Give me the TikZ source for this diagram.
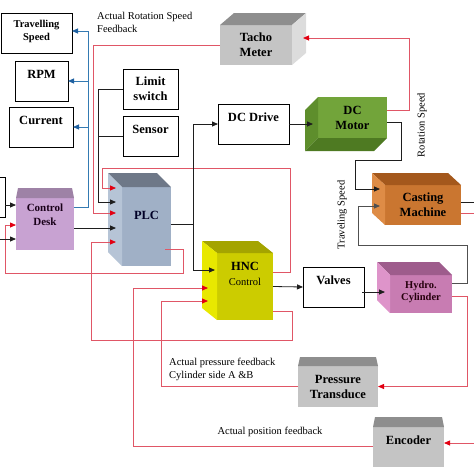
\documentclass[tikz,border=0pt]{standalone}
\usepackage{fontspec}
\setmainfont{Liberation Serif}
\usepackage{xcolor}
\usetikzlibrary{arrows.meta}

\definecolor{fbred}{RGB}{224,86,102}
\definecolor{tipred}{RGB}{226,0,18}
\definecolor{lnblue}{RGB}{52,122,178}
\definecolor{tipblue}{RGB}{30,96,160}
\definecolor{lnblack}{RGB}{30,30,30}
\definecolor{lngray}{RGB}{80,80,80}
% 立方体各面颜色
\definecolor{grayF}{RGB}{196,196,196}
\definecolor{grayT}{RGB}{142,142,142}
\definecolor{grayS}{RGB}{220,220,220}
\definecolor{greenF}{RGB}{114,164,58}
\definecolor{greenL}{RGB}{94,142,44}
\definecolor{greenB}{RGB}{78,122,34}
\definecolor{orgF}{RGB}{202,118,48}
\definecolor{orgT}{RGB}{164,88,28}
\definecolor{orgL}{RGB}{222,140,70}
\definecolor{pinkF}{RGB}{200,124,178}
\definecolor{pinkT}{RGB}{158,92,140}
\definecolor{pinkL}{RGB}{222,148,202}
\definecolor{lilacF}{RGB}{200,162,210}
\definecolor{lilacT}{RGB}{158,130,166}
\definecolor{plcF}{RGB}{160,176,198}
\definecolor{plcL}{RGB}{182,196,214}
\definecolor{plcT}{RGB}{110,120,136}
\definecolor{ylwF}{RGB}{204,204,0}
\definecolor{ylwL}{RGB}{232,232,0}
\definecolor{ylwT}{RGB}{164,164,0}

\begin{document}
\begin{tikzpicture}[
    x=1pt, y=-1pt,
    >={Triangle[length=6pt,width=5pt]},
    box/.style={draw=black, line width=0.8pt, fill=white, inner sep=0pt, outer sep=0pt,
        align=center, font=\fontsize{12.5}{15}\selectfont\bfseries},
    face/.style={inner sep=0pt, outer sep=0pt, align=center,
        font=\fontsize{12.5}{15}\selectfont\bfseries},
    raised/.style={text depth=14pt},  % 单行文字偏上
    sig/.style={draw=lnblack, line width=0.8pt},
    fb/.style={draw=fbred, line width=0.8pt},
    blu/.style={draw=lnblue, line width=0.8pt},
    sigarrow/.style={sig, ->},
    fbarrow/.style={fb, -{Triangle[length=6pt,width=5pt,color=tipred]}},
    bluarrow/.style={blu, -{Triangle[length=6pt,width=5pt,color=tipblue]}},
    note/.style={font=\fontsize{10.5}{13}\selectfont, inner sep=0pt, align=left}
]
    \useasboundingbox (0,0) rectangle (474,474);

    % 普通方框
    \node[box, font=\fontsize{10.5}{13}\selectfont\bfseries, text depth=5pt,
        minimum width=71pt, minimum height=40pt] (spd) at (36.5,33) {Travelling\\Speed};
    \node[box, raised, minimum width=53pt, minimum height=40pt] (rpm) at (41.5,81) {RPM};
    \node[box, raised, minimum width=64pt, minimum height=40pt] (cur) at (41,127) {Current};
    \node[box, minimum width=55pt, minimum height=40pt] (lim) at (150.5,89) {Limit\\switch};
    \node[box, raised, minimum width=55pt, minimum height=40pt] (sen) at (150.5,136) {Sensor};
    \node[box, raised, minimum width=71pt, minimum height=40pt] (drv) at (253.5,124) {DC Drive};
    \node[box, raised, minimum width=61pt, minimum height=40pt] (vlv) at (333.5,287) {Valves};
    \node[box, minimum width=45pt, minimum height=40pt] (inp) at (-17.5,197) {};

    % 立方体：先画正面，再补侧面
    \node[face, fill=grayF, minimum width=72pt, minimum height=40pt] (tacho) at (256,45) {Tacho\\Meter};
    \fill[grayT] (tacho.north west) -- ++(14,-12) -- ++(72,0) -- (tacho.north east) -- cycle;
    \fill[grayS] (tacho.north east) -- ++(14,-12) -- ++(0,40) -- (tacho.south east) -- cycle;

    \node[face, fill=greenF, minimum width=69pt, minimum height=41pt] (motor) at (352.5,117.5) {DC\\Motor};
    \fill[greenL] (motor.north west) -- ++(-13,13) -- ++(0,41) -- (motor.south west) -- cycle;
    \fill[greenB] (motor.south west) -- ++(-13,13) -- ++(69,0) -- (motor.south east) -- cycle;

    \node[face, fill=orgF, minimum width=76pt, minimum height=40pt] (cast) at (423,205) {Casting\\Machine};
    \fill[orgT] (cast.north west) -- ++(-13,-12) -- ++(76,0) -- (cast.north east) -- cycle;
    \fill[orgL] (cast.north west) -- ++(-13,-12) -- ++(0,40) -- (cast.south west) -- cycle;

    \node[face, fill=pinkF, text=black!80!purple, font=\fontsize{10.5}{12}\selectfont\bfseries,
        text depth=6pt, minimum width=62pt, minimum height=38pt] (hyd) at (421,294) {Hydro.\\Cylinder};
    \fill[pinkT] (hyd.north west) -- ++(-13,-13) -- ++(62,0) -- (hyd.north east) -- cycle;
    \fill[pinkL] (hyd.north west) -- ++(-13,-13) -- ++(0,38) -- (hyd.south west) -- cycle;

    \node[face, fill=lilacF, text=black!80!violet, font=\fontsize{11}{14}\selectfont\bfseries,
        text depth=18pt, minimum width=58pt, minimum height=52pt] (desk) at (45,224) {Control\\Desk};
    \fill[lilacT] (desk.north west) -- ++(2,-10) -- ++(54,0) -- (desk.north east) -- cycle;

    \node[face, fill=plcF, text=black!85!blue, text depth=23pt,
        minimum width=49pt, minimum height=79pt] (plc) at (146.5,226.5) {PLC};
    \fill[plcT] (plc.north west) -- ++(-14,-14) -- ++(49,0) -- (plc.north east) -- cycle;
    \fill[plcL] (plc.north west) -- ++(-14,-14) -- ++(0,79) -- (plc.south west) -- cycle;

    \node[face, fill=ylwF, text depth=25pt, minimum width=56pt, minimum height=67pt] (hnc)
        at (245,286.5) {HNC\\\fontsize{10.5}{13}\selectfont\mdseries Control};
    \fill[ylwT] (hnc.north west) -- ++(-15,-12) -- ++(56,0) -- (hnc.north east) -- cycle;
    \fill[ylwL] (hnc.north west) -- ++(-15,-12) -- ++(0,67) -- (hnc.south west) -- cycle;

    \node[face, fill=grayF, minimum width=80pt, minimum height=41pt] (pt) at (338,386.5) {Pressure\\Transduce};
    \fill[grayT] (pt.north west) -- ++(2,-9) -- ++(76,0) -- (pt.north east) -- cycle;

    \node[face, fill=grayF, raised, minimum width=71pt, minimum height=40pt] (enc) at (408.5,447) {Encoder};
    \fill[grayT] (enc.north west) -- ++(2,-10) -- ++(67,0) -- (enc.north east) -- cycle;

    % 文字标注
    \node[note, anchor=north west] (rotfb) at (97,12) {Actual Rotation Speed\\Feedback};
    \node[note, rotate=90] (rotspd) at (422,125) {Rotation Speed};
    \node[note, rotate=90] (trvspd) at (342,215) {Traveling Speed};
    \node[note, anchor=west] (prsfb) at (169,369) {Actual pressure feedback\\Cylinder side A \&B};
    \node[note] (posfb) at (270,432) {Actual position feedback};

    % 蓝线：控制台 -> 显示
    \draw[blu] (desk.east |- 0,207) -| (88,31) coordinate (bt);
    \draw[bluarrow] (bt) -- ([yshift=2pt]spd.east);
    \draw[bluarrow] (rpm.east -| bt) -- (rpm.east);
    \draw[bluarrow] (cur.east -| bt) -- (cur.east);

    % 输入到 PLC
    \draw[sigarrow, shorten >=6pt] (lim.west) -| (98,202) -- (plc.west |- 0,202);
    \draw[sig] (sen.west) -- (sen.west -| 98,0);
    \draw[fbarrow, shorten >=6pt] (tacho.west) -| (93,213) -- (plc.west |- 0,213);
    \draw[fbarrow, shorten >=6pt] (hnc.east |- 0,272) -| (290,168) -| (102,188) -- (plc.west |- 0,188);
    \draw[sigarrow, shorten >=6pt] (desk.east |- 0,228) -- (plc.west |- 0,228);
    \draw[fbarrow, shorten >=6pt] (hnc.east |- 0,311) -| (292,340) -| (91,242) -- (plc.west |- 0,242);

    % 控制台输入
    \draw[fbarrow] (plc.east |- 0,249) ++(-6,0) -| (183,273) -| (5,225) -- (desk.west |- 0,225);
    \coordinate (lft) at (-5,239);
    \draw[sigarrow] (inp.east |- 0,205) -- (desk.west |- 0,205);
    \draw[sigarrow] (lft) -- (desk.west |- 0,239);

    % PLC 输出
    \draw[sig] (plc.east |- 0,224) -- (193,224) coordinate (pj);
    \draw[sigarrow] (pj) |- (drv.west);
    \draw[sigarrow, shorten >=2pt] (pj) |- (hnc.west |- 0,270);

    % 驱动与电机
    \draw[sigarrow, shorten >=5pt] (drv.east) -- (motor.west |- drv.east);
    \draw[fbarrow, shorten >=11pt] (motor.east |- 0,110) -| (409,38) -- (tacho.east |- 0,38);
    \draw[sigarrow, shorten >=5pt] (motor.east |- 0,122) -| (401,160) -| (355,189) -- (cast.west |- 0,189);
    \draw[draw=lngray, line width=0.8pt, ->, shorten >=5pt] (hyd.east |- 0,283) -| (467,245) -| (358,206) -- (cast.west |- 0,206);
    \draw[sig] (cast.east |- 0,202) -- ++(15,0);
    \draw[fb] (cast.east |- 0,213) -- ++(15,0);

    % HNC -> 阀 -> 油缸
    \draw[sigarrow] (hnc.east) -- (vlv.west);
    \draw[sigarrow, shorten >=5pt] (vlv.east |- 0,292) ++(-2,0) -- (hyd.west |- 0,292);

    % 压力、位置反馈
    \draw[fbarrow] (hyd.east |- 0,296) -| (pt.east -| 467,0) -- (pt.east);
    \draw[fbarrow, shorten >=9pt] (pt.west) -| (161,301) -- (hnc.west |- 0,301);
    \draw[fbarrow, shorten >=9pt] (enc.west |- 0,446) -| (133,288) -- (hnc.west |- 0,288);
    \coordinate (rgt) at (476,443);
    \draw[fbarrow] (rgt) -- (enc.east |- 0,443);
\end{tikzpicture}
\end{document}
